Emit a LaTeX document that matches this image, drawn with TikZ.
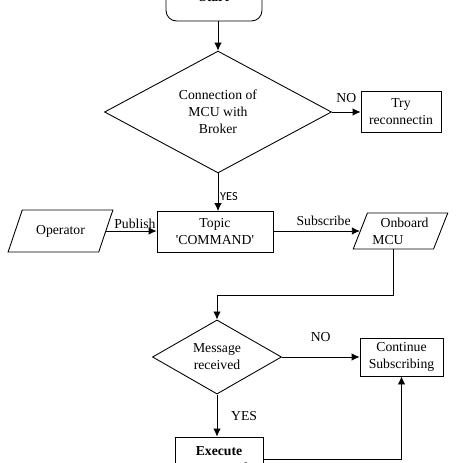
\documentclass[tikz,border=0pt]{standalone}
\usepackage{fontspec}
\setmainfont{Liberation Serif}
\newfontfamily\yesfont{Carlito}
\usetikzlibrary{arrows.meta,shapes.geometric,positioning}

\begin{document}
\begin{tikzpicture}[>={Latex[length=1.6mm,width=1.5mm]},line width=0.5pt,
  font=\fontsize{7.8}{9.7}\selectfont,
  box/.style={draw,rectangle,align=center,inner sep=1pt},
  decis/.style={draw,diamond,align=center,inner sep=0pt},
  para/.style={draw,trapezium,trapezium stretches=true,trapezium left angle=58,
    trapezium right angle=122,align=center,inner sep=1pt},
  lbl/.style={inner sep=1pt}]
\useasboundingbox (0,0) rectangle (9.26,-9.26);
\clip (0,0) rectangle (9.26,-9.26);
% ---- connection check
\node[draw,rounded corners=6pt,minimum width=1.92cm,minimum height=0.96cm,
  font=\bfseries\fontsize{7.8}{9.7}\selectfont] (start) at (4.28,0.06) {Start};
\node[decis,minimum width=4.54cm,minimum height=2.16cm] (conn) at (4.36,-2.24) {Connection of\\MCU with\\Broker};
\node[box,minimum width=1.6cm,minimum height=0.82cm] (retry) at (8.02,-2.24) {Try\\reconnectin};
% ---- publish / subscribe row
\node[para,minimum width=2.1cm,minimum height=0.84cm] (oper) at (1.21,-4.62) {Operator};
\node[box,minimum width=2.32cm,minimum height=0.82cm] (topic) at (4.3,-4.64) {Topic\\\textquotesingle COMMAND\textquotesingle};
\node[para,trapezium left angle=67,trapezium right angle=113,minimum width=1.9cm,
  minimum height=0.72cm,align=left] (onboard) at (8.01,-4.62) {\hspace{0.6em}Onboard\\MCU};
% ---- message handling
\coordinate (bend) at (4.34,-5.9);
\node[decis,minimum width=2.58cm,minimum height=1.48cm] (msg) at (4.34,-7.14) {Message\\received};
\node[box,minimum width=1.66cm,minimum height=0.76cm] (cont) at (8.03,-7.14) {Continue\\Subscribing};
\node[box,minimum width=1.76cm,minimum height=0.9cm,
  font=\bfseries\fontsize{7.8}{9.7}\selectfont] (exec) at (4.38,-9.19) {Execute\\command};
% ---- connectors
\draw[->] (start.south -| conn.north) -- (conn.north);
\draw[->] (conn.east) -- (retry.west) node[midway,above=0.14cm,lbl]{NO};
\draw[->] (conn.south) -- (topic.north -| conn.south)
  node[pos=0.62,right,lbl,font=\yesfont\fontsize{7}{8}\selectfont]{YES};
\draw[->] (oper.east) -- (topic.west |- oper.east) node[pos=0.57,above,lbl]{Publish};
\draw[->] (topic.east |- onboard.west) -- (onboard.west) node[pos=0.58,above=2pt,lbl]{Subscribe};
\draw[->] (onboard.bottom side) |- (bend) -- (msg.north);
\draw[->] (msg.east) -- (cont.west) node[midway,above=0.26cm,lbl]{NO};
\draw[->] (msg.south) -- (exec.north -| msg.south) node[midway,right=0.24cm,lbl]{YES};
\draw[->] (exec.east) -| (cont.south);
\end{tikzpicture}
\end{document}
